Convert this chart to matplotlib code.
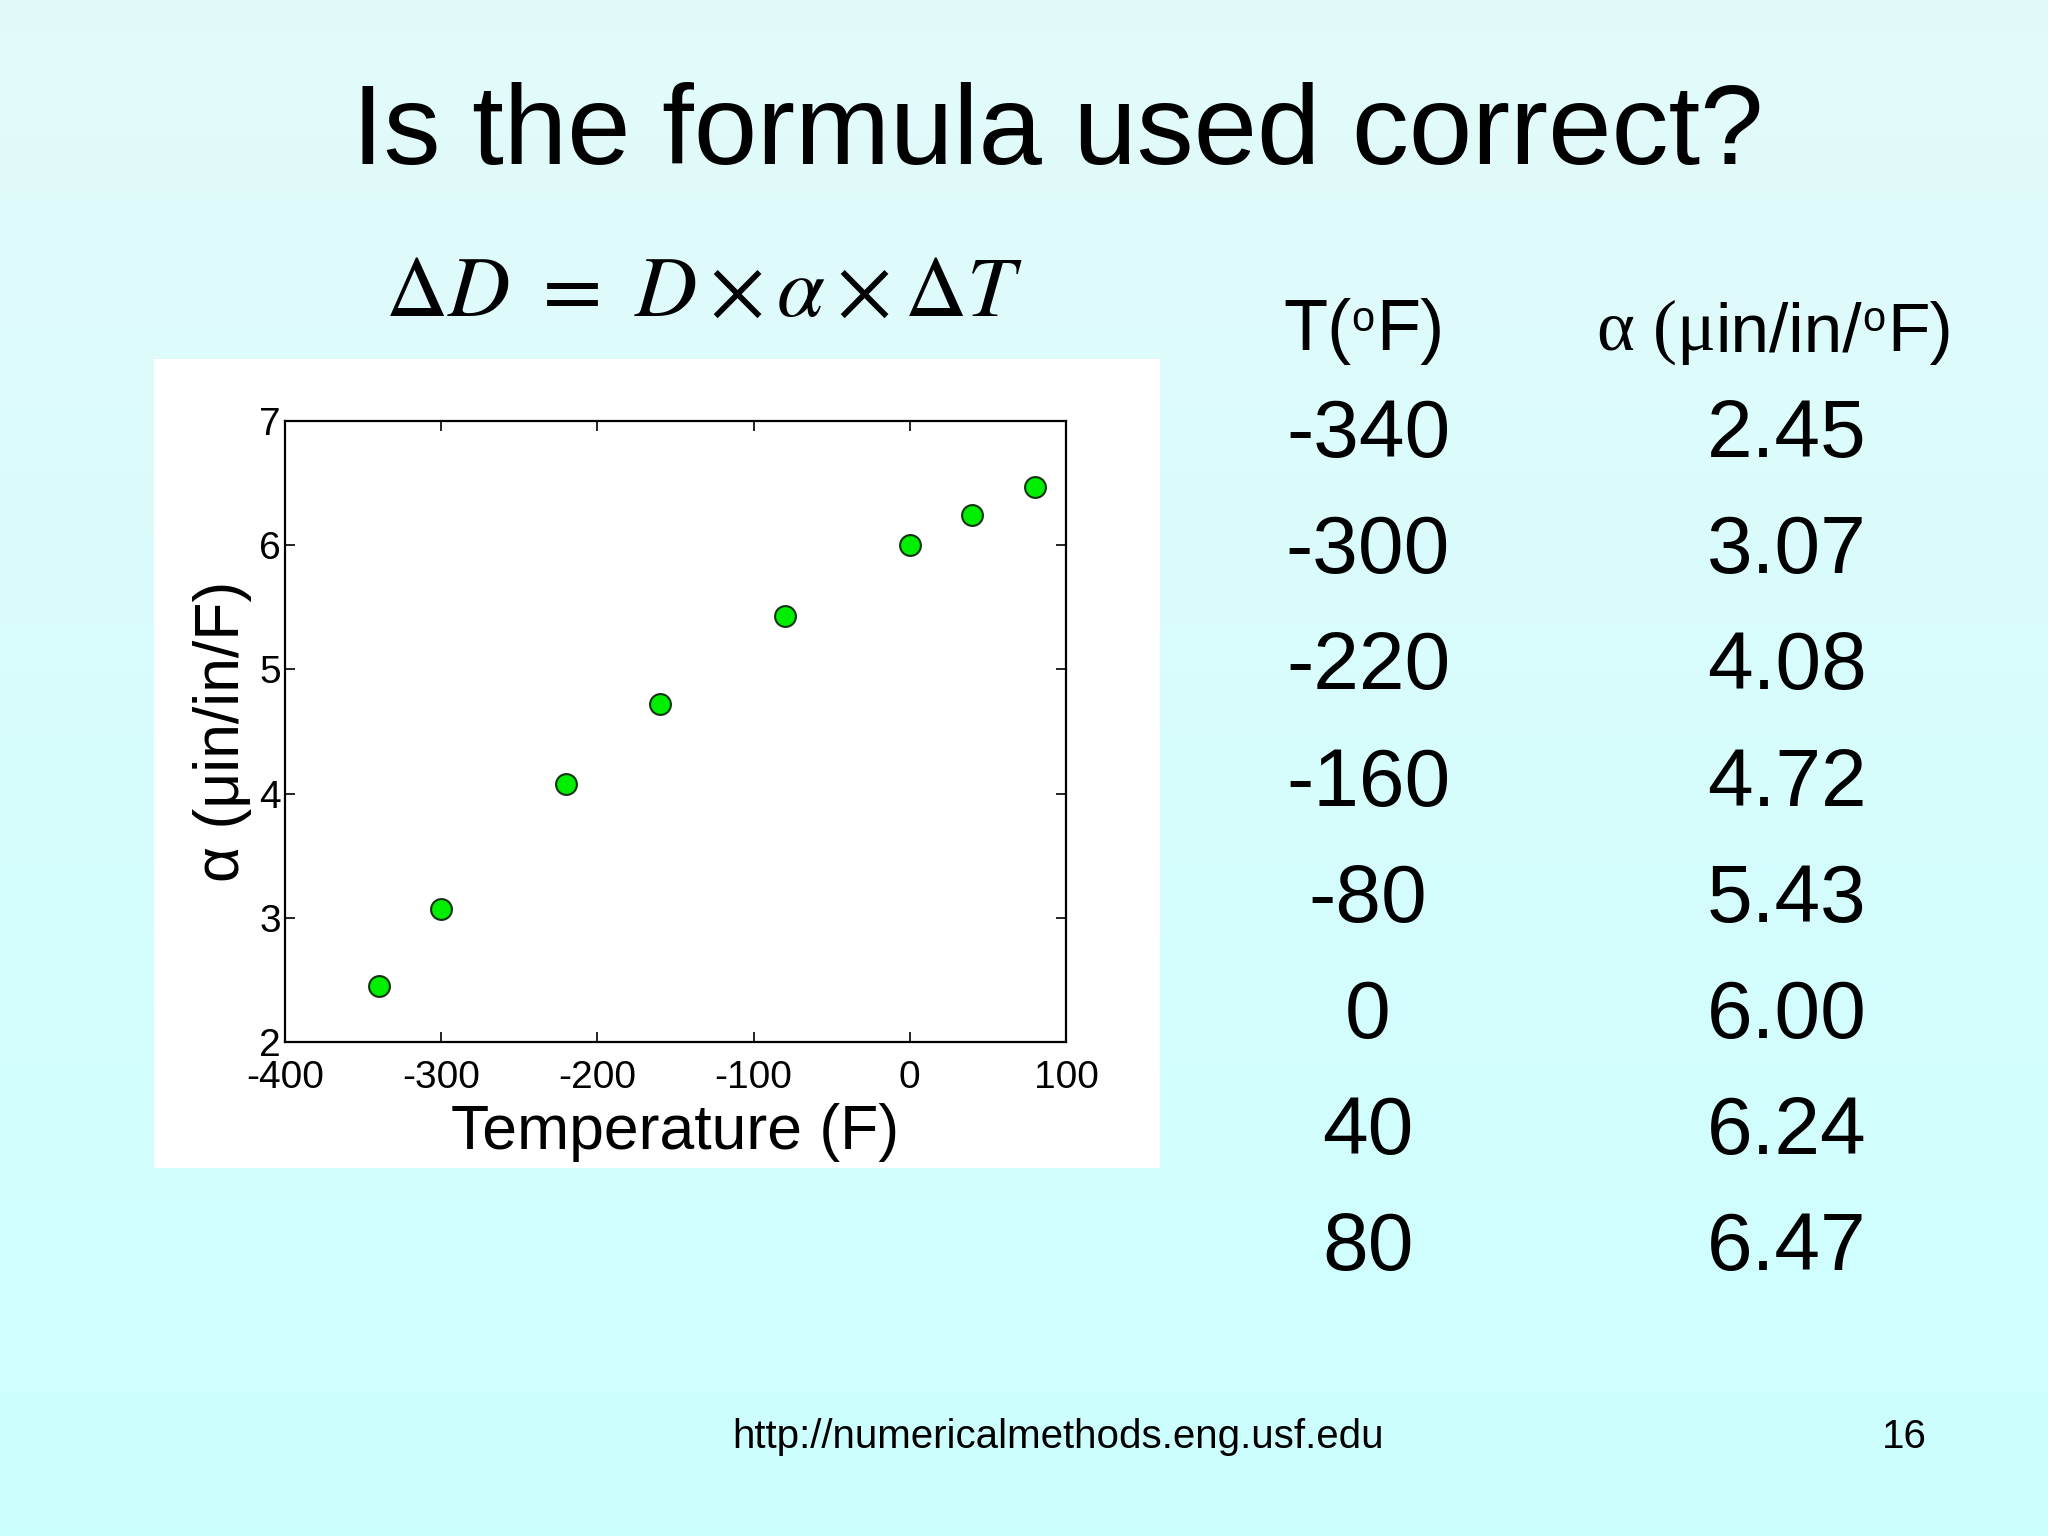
import numpy as np
import matplotlib
matplotlib.use("Agg")
import matplotlib.pyplot as plt
from matplotlib.patches import Rectangle
from matplotlib.text import Annotation

# data (table on the slide and points on the plot)
temps = [-340, -300, -220, -160, -80, 0, 40, 80]
alphas = [2.45, 3.07, 4.08, 4.72, 5.43, 6.00, 6.24, 6.47]
alpha_labels = ["2.45", "3.07", "4.08", "4.72", "5.43", "6.00", "6.24", "6.47"]
xticks = [-400, -300, -200, -100, 0, 100]
yticks = [2, 3, 4, 5, 6, 7]

plt.rcParams['font.family'] = ['Liberation Sans', 'DejaVu Sans']
plt.rcParams['axes.unicode_minus'] = False

W, H = 2048, 1536
fig = plt.figure(figsize=(W / 100, H / 100), dpi=100)

# slide background gradient
bg = fig.add_axes([0, 0, 1, 1], zorder=-2)
grad = np.linspace(0, 1, 256).reshape(-1, 1)
top = np.array([0.89, 0.98, 0.98])
bot = np.array([0.80, 1.0, 1.0])
img = top + (bot - top) * grad[:, :, None]
bg.imshow(img, aspect='auto', extent=[0, 1, 0, 1])
bg.axis('off')

# white panel behind the plot
fig.patches.append(Rectangle((154 / W, 1 - 1168 / H), (1160 - 154) / W, (1168 - 359) / H,
                             transform=fig.transFigure, facecolor='white', edgecolor='none', zorder=-1))

fig.text(1058 / W, 1 - 135 / H, "Is the formula used correct?", ha='center', va='center', fontsize=82)
fig.text(704 / W, 1 - 294 / H, r'$\Delta D\ =\ D\times\alpha\times\Delta T$', ha='center', va='center',
         fontsize=62, math_fontfamily='stix')


def after(prev, txt, size, dx=0, dy=0, **kw):
    # put a text right after another one (dx, dy in points)
    return fig.add_artist(Annotation(txt, xy=(1, 0), xycoords=prev, xytext=(dx, dy),
                                     textcoords='offset points', ha='left', va='bottom',
                                     fontsize=size, **kw))


# table header, with small raised "o" for degrees
base = 1 - 350 / H
t1 = fig.text(1283 / W, base, 'T(', ha='left', va='baseline', fontsize=52)
after(t1, 'o', 30, dy=18)
after(t1, 'F)', 52, dx=18)

h1 = fig.text(1597 / W, base, 'α (μ', ha='left', va='baseline', fontsize=52, family='Liberation Serif')
h2 = after(h1, 'in/in/', 50)
after(h2, 'o', 30, dy=18)
after(h2, 'F)', 50, dx=18)

# table rows
col1 = 1368 / W
col2 = 1787 / W
for i in range(len(temps)):
    y = 1 - (436 + 116.2 * i) / H
    fig.text(col1, y, str(temps[i]), ha='center', va='center', fontsize=59)
    fig.text(col2, y, alpha_labels[i], ha='center', va='center', fontsize=59)

fig.text(1058 / W, 1 - 1437 / H, "http://numericalmethods.eng.usf.edu", ha='center', va='center', fontsize=29)
fig.text(1904 / W, 1 - 1437 / H, "16", ha='center', va='center', fontsize=29)

# the plot
ax = fig.add_axes([285 / W, 1 - 1042 / H, (1066 - 285) / W, (1042 - 421) / H], zorder=0)
ax.plot(temps, alphas, 'o', color='#00ee00', markeredgecolor='#113311', markeredgewidth=1.5, markersize=15)
ax.set_xlim(-400, 100)
ax.set_ylim(2, 7)
ax.set_xticks(xticks)
ax.set_yticks(yticks)
ax.tick_params(direction='in', top=True, right=True, length=7, width=1.2, labelsize=28)
ax.tick_params(axis='x', pad=13)
ax.tick_params(axis='y', pad=3)
for s in ax.spines.values():
    s.set_linewidth(1.6)
ax.set_xlabel("Temperature (F)", fontsize=45, labelpad=5)
ax.set_ylabel("α (μin/in/F)", fontsize=45, labelpad=5)

fig.savefig("out.png", dpi=100)
